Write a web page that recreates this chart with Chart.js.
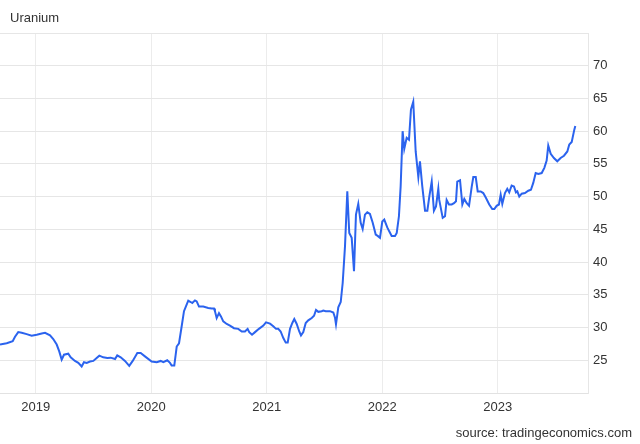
<!DOCTYPE html>
<html>
<head>
<meta charset="utf-8">
<script src="https://cdn.jsdelivr.net/npm/chart.js@4"></script>
<style>
  body { margin: 0; background: #fff; font-family: "Liberation Sans", Arial, sans-serif; }
  #wrap { position: relative; width: 640px; height: 444px; }
  #title { position: absolute; left: 10px; top: 10px; font-size: 13px; color: #333; }
  #source { position: absolute; right: 8px; top: 425px; font-size: 13px; color: #333; }
  canvas { position: absolute; left: 0; top: 0; }
</style>
</head>
<body>
<div id="wrap">
  <canvas id="chart" width="640" height="444"></canvas>
  <div id="title">Uranium</div>
  <div id="source">source: tradingeconomics.com</div>
</div>
<script>
// time as decimal years
let times = [
  2018.691, 2018.749, 2018.801, 2018.821, 2018.849, 2018.879, 2018.922, 2018.965,
  2019.009, 2019.052, 2019.081, 2019.124, 2019.152, 2019.182, 2019.204, 2019.225,
  2019.245, 2019.282, 2019.303, 2019.340, 2019.369, 2019.398, 2019.418, 2019.442,
  2019.470, 2019.499, 2019.528, 2019.551, 2019.585, 2019.620, 2019.649, 2019.687,
  2019.706, 2019.736, 2019.773, 2019.810, 2019.840, 2019.880, 2019.909, 2019.946,
  2020.004, 2020.048, 2020.082, 2020.105, 2020.139, 2020.163, 2020.177, 2020.200,
  2020.221, 2020.241, 2020.264, 2020.284, 2020.307, 2020.321, 2020.342, 2020.356,
  2020.379, 2020.394, 2020.414, 2020.451, 2020.494, 2020.524, 2020.544, 2020.552,
  2020.567, 2020.587, 2020.604, 2020.624, 2020.654, 2020.682, 2020.717, 2020.754,
  2020.784, 2020.812, 2020.835, 2020.849, 2020.873, 2020.899, 2020.933, 2020.971,
  2020.994, 2021.029, 2021.057, 2021.081, 2021.100, 2021.121, 2021.144, 2021.165,
  2021.182, 2021.202, 2021.222, 2021.239, 2021.260, 2021.282, 2021.297, 2021.317,
  2021.338, 2021.360, 2021.390, 2021.410, 2021.427, 2021.447, 2021.476, 2021.490,
  2021.511, 2021.548, 2021.577, 2021.591, 2021.600, 2021.620, 2021.641, 2021.658,
  2021.678, 2021.698, 2021.715, 2021.736, 2021.756, 2021.773, 2021.793, 2021.814,
  2021.831, 2021.851, 2021.871, 2021.894, 2021.918, 2021.944, 2021.961, 2021.981,
  2022.001, 2022.018, 2022.044, 2022.061, 2022.082, 2022.111, 2022.126, 2022.145,
  2022.160, 2022.177, 2022.191, 2022.212, 2022.232, 2022.249, 2022.269, 2022.290,
  2022.313, 2022.327, 2022.347, 2022.371, 2022.391, 2022.408, 2022.429, 2022.448,
  2022.466, 2022.486, 2022.494, 2022.524, 2022.544, 2022.558, 2022.578, 2022.602,
  2022.622, 2022.639, 2022.650, 2022.674, 2022.694, 2022.711, 2022.732, 2022.752,
  2022.775, 2022.789, 2022.810, 2022.827, 2022.853, 2022.875, 2022.899, 2022.927,
  2022.953, 2022.971, 2022.991, 2023.011, 2023.026, 2023.040, 2023.063, 2023.083,
  2023.100, 2023.121, 2023.141, 2023.158, 2023.170, 2023.187, 2023.208, 2023.236,
  2023.265, 2023.288, 2023.308, 2023.329, 2023.352, 2023.381, 2023.404, 2023.424,
  2023.438, 2023.459, 2023.487, 2023.516, 2023.545, 2023.574, 2023.603, 2023.620,
  2023.641, 2023.663, 2023.672
];

// price, USD/lb
let prices = [
  27.4, 27.6, 27.9, 28.6, 29.3, 29.2, 29.0, 28.75,
  28.9, 29.1, 29.2, 28.8, 28.25, 27.4, 26.35, 25.1,
  25.85, 26.0, 25.45, 24.9, 24.6, 24.05, 24.7, 24.6,
  24.8, 24.9, 25.35, 25.7, 25.45, 25.35, 25.4, 25.2,
  25.75, 25.45, 24.9, 24.15, 24.9, 26.1, 26.1, 25.6,
  24.8, 24.7, 24.9, 24.7, 25.0, 24.6, 24.2, 24.2,
  27.1, 27.6, 30.2, 32.5, 33.5, 34.1, 33.9, 33.75,
  34.15, 34.0, 33.2, 33.2, 33.0, 32.9, 32.9, 32.5,
  31.45, 32.2, 31.7, 30.95, 30.55, 30.3, 29.9, 29.8,
  29.4, 29.4, 29.8, 29.3, 28.9, 29.3, 29.8, 30.3,
  30.8, 30.6, 30.2, 29.8, 29.8, 29.4, 28.4, 27.7,
  27.7, 29.8, 30.7, 31.3, 30.55, 29.4, 28.8, 29.3,
  30.7, 31.1, 31.45, 31.8, 32.7, 32.4, 32.5, 32.6,
  32.5, 32.5, 32.3, 31.55, 30.5, 33.1, 33.9, 36.8,
  42.4, 50.8, 44.45, 43.7, 38.6, 47.25, 48.9, 46.0,
  45.05, 47.25, 47.6, 47.35, 46.0, 44.2, 44.0, 43.7,
  46.2, 46.5, 45.3, 44.7, 44.0, 44.0, 44.45, 47.0,
  51.6, 60.0, 57.3, 59.0, 58.7, 63.3, 64.5, 56.9,
  53.0, 55.4, 51.6, 47.85, 47.85, 50.0, 52.3, 47.85,
  48.5, 51.2, 49.5, 46.75, 47.0, 49.5, 48.8, 48.8,
  49.0, 49.3, 52.3, 52.5, 48.8, 49.65, 49.0, 48.6,
  51.5, 53.0, 53.0, 50.8, 50.8, 50.55, 49.8, 48.8,
  48.1, 48.1, 48.6, 48.8, 50.3, 48.9, 50.55, 51.2,
  50.65, 51.7, 51.55, 50.65, 50.8, 50.0, 50.45, 50.55,
  50.9, 51.05, 52.1, 53.6, 53.45, 53.6, 54.4, 55.5,
  57.8, 56.55, 55.9, 55.4, 55.9, 56.25, 56.9, 57.95,
  58.35, 60.2, 60.8
];

let yearTicks = [2019, 2020, 2021, 2022, 2023];
let valueTicks = [25, 30, 35, 40, 45, 50, 55, 60, 65, 70];

let points = times.map((t, i) => ({ x: t, y: prices[i] }));

new Chart(document.getElementById("chart"), {
  type: "line",
  data: {
    datasets: [{
      data: points,
      borderColor: "#2b63ee",
      borderWidth: 2,
      pointRadius: 0,
      tension: 0,
      fill: false
    }]
  },
  options: {
    responsive: false,
    animation: false,
    layout: { padding: { top: 33, left: 0, right: 0, bottom: 0 } },
    plugins: { legend: { display: false }, tooltip: { enabled: false } },
    scales: {
      x: {
        type: "linear",
        min: 2018.691,
        max: 2023.782,
        afterBuildTicks: s => { s.ticks = yearTicks.map(v => ({ value: v })); },
        afterFit: s => { s.height = 51; },
        grid: { color: "#ececec", drawTicks: false },
        border: { color: "#e2e2e2" },
        ticks: {
          padding: 7,
          color: "#333",
          font: { family: "Liberation Sans", size: 13 },
          callback: v => String(v)
        }
      },
      y: {
        position: "right",
        min: 20,
        max: 75,
        afterBuildTicks: s => { s.ticks = [20].concat(valueTicks, [75]).map(v => ({ value: v })); },
        afterFit: s => { s.width = 52; },
        grid: { color: "#e6e6e6", drawTicks: false },
        border: { color: "#e6e6e6" },
        ticks: {
          padding: 5,
          color: "#333",
          font: { family: "Liberation Sans", size: 13 },
          callback: v => valueTicks.includes(v) ? String(v) : ""
        }
      }
    }
  }
});
</script>
</body>
</html>
